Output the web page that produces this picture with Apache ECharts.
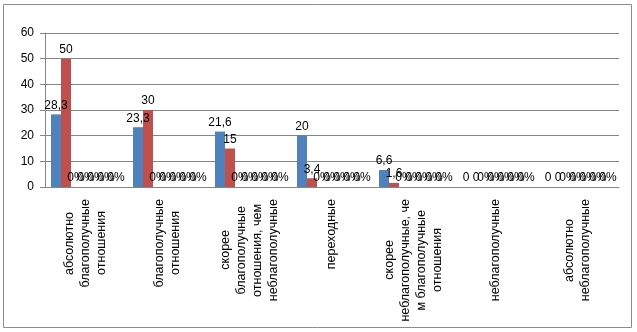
<!DOCTYPE html>
<html>
<head>
<meta charset="utf-8">
<script src="https://cdn.jsdelivr.net/npm/echarts@6/dist/echarts.min.js"></script>
<style>
  html, body { margin: 0; padding: 0; background: #fff; }
  #chart { width: 637px; height: 332px; }
</style>
</head>
<body>
<div id="chart"></div>
<script>
// Категории отношений (подписи оси X, по строкам)
const categories = [
  ['абсолютно', 'благополучные', 'отношения'],
  ['благополучные', 'отношения'],
  ['скорее', 'благополучные', 'отношения, чем', 'неблагополучные'],
  ['переходные'],
  ['скорее', 'неблагополучные, че', 'м благополучные', 'отношения'],
  ['неблагополучные'],
  ['абсолютно', 'неблагополучные'],
];
const seriesBlue = [28.3, 23.3, 21.6, 20, 6.6, 0, 0];
const seriesRed = [50, 30, 15, 3.4, 1.6, 0, 0];
// пустые ряды, подписанные как 0%
const zeroSeries = [
  [0, 0, 0, 0, 0, 0, 0],
  [0, 0, 0, 0, 0, 0, 0],
  [0, 0, 0, 0, 0, 0, 0],
  [0, 0, 0, 0, 0, 0, 0],
  [0, 0, 0, 0, 0, 0, 0],
];
const yTicks = { min: 0, max: 60, interval: 10 };

const chart = echarts.init(document.getElementById('chart'));
const FONT = '"Liberation Sans", Arial, sans-serif';
const CAT_SIZE = 12.5;

// строки подписи центрируем внутри блока: правый отступ = половина разницы ширин
const ctx = document.createElement('canvas').getContext('2d');
ctx.font = CAT_SIZE + 'px ' + FONT;
const rich = {};
const catLabels = categories.map(lines => {
  const ws = lines.map(s => ctx.measureText(s).width);
  const max = Math.max(...ws);
  return lines.map((s, i) => {
    const pad = Math.round((max - ws[i]) / 2);
    const key = 'p' + pad;
    rich[key] = { align: 'right', padding: [0, pad, 0, 0], fontFamily: FONT, fontSize: CAT_SIZE, lineHeight: 16, color: '#000' };
    return '{' + key + '|' + s + '}';
  }).join('\n');
});

const labelBase = { show: true, position: 'top', distance: 3, color: '#000', fontFamily: FONT, fontSize: 12 };
const bar = (data, color, fmt) => ({
  type: 'bar', data, barWidth: 10, barGap: '0%',
  itemStyle: { color },
  label: { ...labelBase, formatter: fmt },
});
const commaFmt = p => String(p.value).replace('.', ',');

chart.setOption({
  animation: false,
  backgroundColor: '#fff',
  grid: { left: 45, right: 18, top: 33, bottom: 145 },
  xAxis: {
    type: 'category',
    data: catLabels,
    axisLine: { lineStyle: { color: '#868686' } },
    axisTick: { length: 5, lineStyle: { color: '#868686' } },
    axisLabel: {
      interval: 0, rotate: 90, margin: 12,
      color: '#000', fontFamily: FONT, fontSize: CAT_SIZE, lineHeight: 16,
      rich,
    },
  },
  yAxis: {
    type: 'value', ...yTicks,
    axisLine: { show: true, lineStyle: { color: '#868686' } },
    axisTick: { show: true, length: 5, lineStyle: { color: '#868686' } },
    axisLabel: { color: '#000', fontFamily: FONT, fontSize: 12, margin: 11 },
    splitLine: { lineStyle: { color: '#868686' } },
  },
  graphic: [{
    type: 'rect', silent: true,
    shape: { x: 3.5, y: 4.5, width: 628, height: 323 },
    style: { fill: 'none', stroke: '#8c8c8c', lineWidth: 1 },
  }],
  series: [
    bar(seriesBlue, '#4F81BD', commaFmt),
    bar(seriesRed, '#C0504D', commaFmt),
    ...zeroSeries.map(d => bar(d, '#9BBB59', () => '0%')),
  ],
});
</script>
</body>
</html>
